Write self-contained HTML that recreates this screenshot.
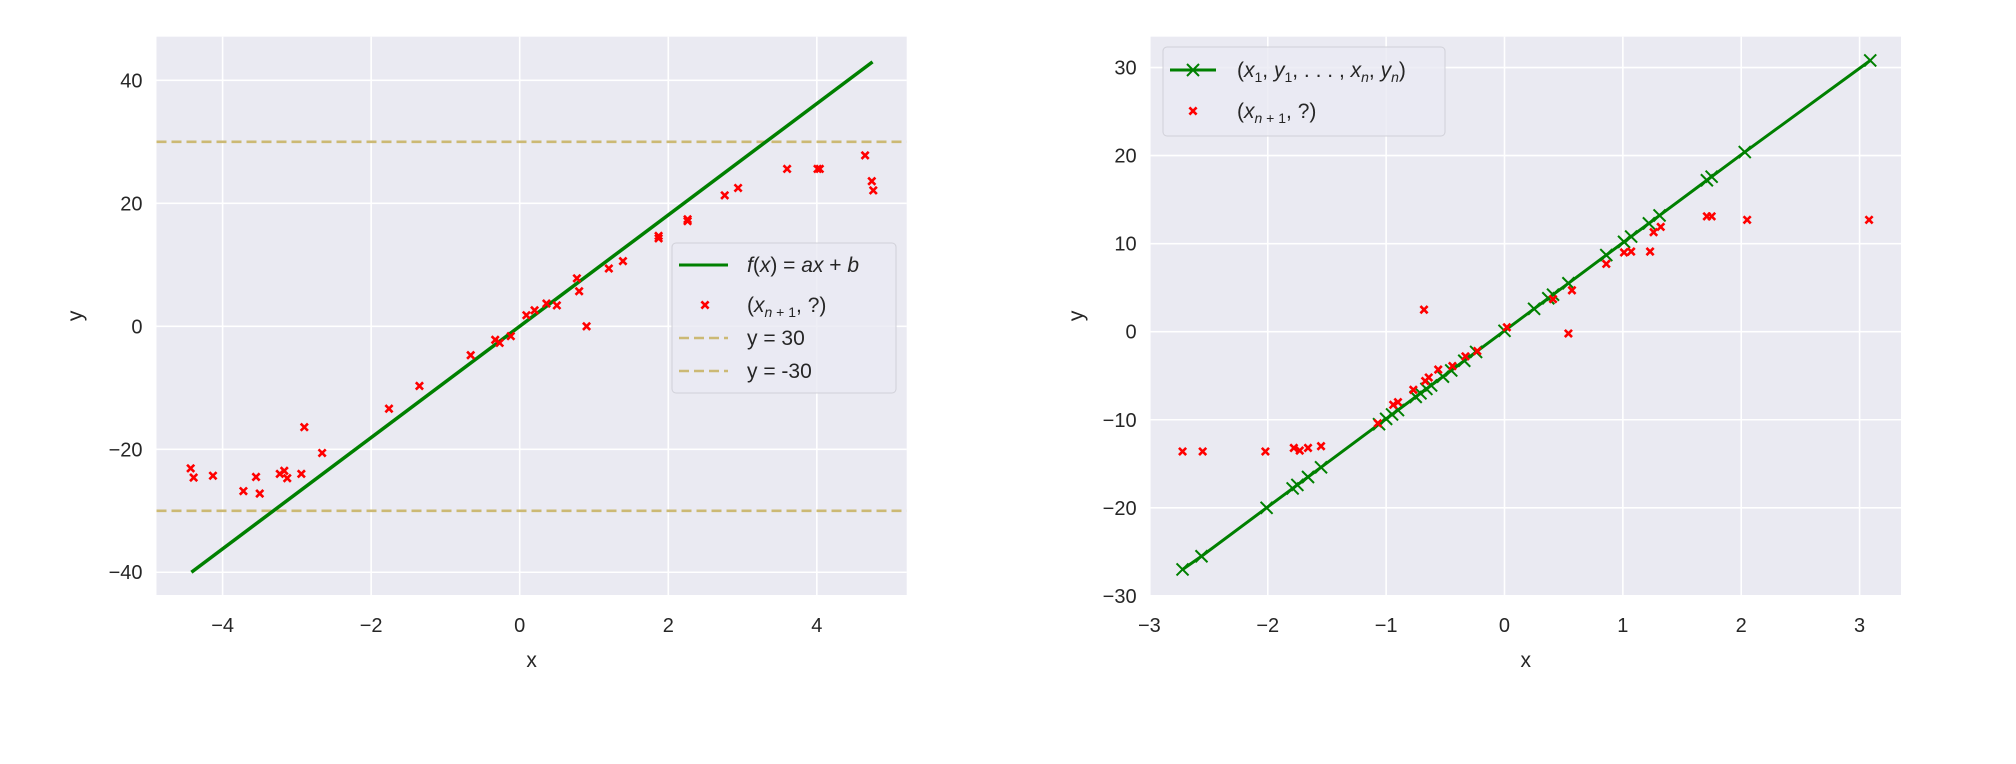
<!DOCTYPE html>
<html><head><meta charset="utf-8"><style>
html,body{margin:0;padding:0;background:#fff;}
svg{display:block;font-family:"Liberation Sans",sans-serif;}
</style></head><body>
<svg id="fig" width="2016" height="764" viewBox="0 0 2016 764" xmlns="http://www.w3.org/2000/svg"></svg>
<script>
// ---- left chart data ----
const leftLineX = [-4.42, 4.75];
const leftLineY = [-40.0, 43.0];
const leftPtsX = [-4.43,-4.39,-4.13,-3.72,-3.55,-3.50,-3.23,-3.17,-3.13,-2.94,-2.90,-2.66,-1.76,-1.35,-0.66,-0.33,-0.27,-0.12,0.09,0.20,0.36,0.50,0.77,0.80,0.90,1.20,1.39,1.87,1.87,2.26,2.26,2.76,2.94,3.60,4.01,4.04,4.65,4.74,4.76];
const leftPtsY = [-23.1,-24.6,-24.3,-26.8,-24.5,-27.2,-24.0,-23.5,-24.7,-24.0,-16.4,-20.6,-13.4,-9.7,-4.7,-2.2,-2.7,-1.6,1.8,2.6,3.7,3.4,7.8,5.7,0.0,9.4,10.6,14.7,14.3,17.4,17.1,21.3,22.5,25.6,25.6,25.6,27.8,23.6,22.1];
const leftHLines = [30, -30];
const leftXTicks = [-4,-2,0,2,4];
const leftYTicks = [40,20,0,-20,-40];
// ---- right chart data ----
const rightLineX = [-2.72,-2.56,-2.01,-1.79,-1.75,-1.66,-1.55,-1.06,-1.00,-0.95,-0.90,-0.75,-0.71,-0.66,-0.62,-0.52,-0.45,-0.34,-0.24,0.00,0.25,0.37,0.41,0.54,0.86,1.01,1.07,1.22,1.31,1.71,1.75,2.03,3.09];
const rightLineY = [-27.0,-25.5,-20.0,-17.8,-17.4,-16.5,-15.4,-10.5,-9.9,-9.4,-8.9,-7.4,-7.0,-6.5,-6.1,-5.1,-4.4,-3.3,-2.3,0.1,2.6,3.8,4.2,5.5,8.7,10.2,10.8,12.3,13.2,17.2,17.6,20.4,30.8];
const rightPtsX = [-2.72,-2.55,-2.02,-1.78,-1.73,-1.66,-1.55,-1.07,-0.94,-0.90,-0.77,-0.67,-0.64,-0.56,-0.44,-0.33,-0.23,-0.68,0.02,0.41,0.57,0.54,0.86,1.01,1.07,1.23,1.26,1.32,1.71,1.75,2.05,3.08];
const rightPtsY = [-13.6,-13.6,-13.6,-13.2,-13.5,-13.2,-13.0,-10.4,-8.3,-8.0,-6.6,-5.6,-5.2,-4.3,-3.9,-2.8,-2.2,2.5,0.5,3.7,4.7,-0.2,7.7,9.0,9.1,9.1,11.3,11.9,13.1,13.1,12.7,12.7];
const rightXTicks = [-3,-2,-1,0,1,2,3];
const rightYTicks = [30,20,10,0,-10,-20,-30];

const NS = "http://www.w3.org/2000/svg";
const svg = document.getElementById('fig');
function mk(tag, attrs, parent, name, inter){
  const e = document.createElementNS(NS, tag);
  for (const k in attrs) e.setAttribute(k, attrs[k]);
  
  
  (parent||svg).appendChild(e);
  return e;
}
function xMark(g, cx, cy, r, color, sw, name){
  const p = document.createElementNS(NS,'path');
  p.setAttribute('d', `M${cx-r},${cy-r}L${cx+r},${cy+r}M${cx-r},${cy+r}L${cx+r},${cy-r}`);
  p.setAttribute('stroke', color); p.setAttribute('stroke-width', sw); p.setAttribute('fill','none');
  
  
  g.appendChild(p);
}
const TXT = '#262626';
function axes(cfg){
  const g = mk('g', {}, svg, cfg.name, false);
  const sx = v => cfg.L + (v - cfg.x0) / (cfg.x1 - cfg.x0) * (cfg.R - cfg.L);
  const sy = v => cfg.B - (v - cfg.y0) / (cfg.y1 - cfg.y0) * (cfg.B - cfg.T);
  mk('rect', {x:cfg.L, y:cfg.T, width:cfg.R-cfg.L, height:cfg.B-cfg.T, fill:'#EAEAF2'}, g, 'plot-background', false);
  cfg.xt.forEach(v => {
    mk('line', {x1:sx(v), x2:sx(v), y1:cfg.T, y2:cfg.B, stroke:'#fff', 'stroke-width':1.6}, g, 'x-gridline', false);
    const t = mk('text', {x:sx(v), y:632, 'font-size':20, fill:TXT, 'text-anchor':'middle'}, g, 'x-tick-label', false);
    t.textContent = String(v).replace('-', '\u2212');
  });
  cfg.yt.forEach(v => {
    mk('line', {x1:cfg.L, x2:cfg.R, y1:sy(v), y2:sy(v), stroke:'#fff', 'stroke-width':1.6}, g, 'y-gridline', false);
    const t = mk('text', {x:cfg.L-14, y:sy(v)+7, 'font-size':20, fill:TXT, 'text-anchor':'end'}, g, 'y-tick-label', false);
    t.textContent = String(v).replace('-', '\u2212');
  });
  const xl = mk('text', {x:(cfg.L+cfg.R)/2, y:667, 'font-size':21, fill:TXT, 'text-anchor':'middle'}, g, 'x-axis-title', false);
  xl.textContent = 'x';
  const yx = cfg.ylabX;
  const yl = mk('text', {x:yx, y:(cfg.T+cfg.B)/2, 'font-size':21, fill:TXT, 'text-anchor':'middle', transform:`rotate(-90 ${yx} ${(cfg.T+cfg.B)/2})`}, g, 'y-axis-title', false);
  yl.textContent = 'y';
  const clipId = cfg.name + '-clip';
  const cp = mk('clipPath', {id:clipId}, g, 'clip', false);
  mk('rect', {x:cfg.L, y:cfg.T, width:cfg.R-cfg.L, height:cfg.B-cfg.T}, cp, 'clip-rect', false);
  const dg = mk('g', {'clip-path':`url(#${clipId})`}, g, 'data-layer', false);
  return {g, dg, sx, sy};
}

// LEFT
const A = axes({name:'left-chart', L:156.5, R:906.7, T:36.7, B:595, x0:-4.89, x1:5.21, y0:-43.7, y1:47.1, xt:leftXTicks, yt:leftYTicks, ylabX:82});
leftHLines.forEach(v => {
  mk('line', {x1:156.5, x2:906.7, y1:A.sy(v), y2:A.sy(v), stroke:'#CCB974', 'stroke-width':2.6, 'stroke-dasharray':'10,5'}, A.dg, v>0?'hline-y30':'hline-y-30', false);
});
mk('polyline', {points:leftLineX.map((x,i)=>A.sx(x)+','+A.sy(leftLineY[i])).join(' '), stroke:'#008000', 'stroke-width':3.5, fill:'none'}, A.dg, 'fit-line', false);
const lp = mk('g', {}, A.dg, 'red-points', false);
leftPtsX.forEach((x,i) => xMark(lp, A.sx(x), A.sy(leftPtsY[i]), 3.6, '#ff0000', 2.6, 'red-point'));
// left legend
const lg = mk('g', {}, A.g, 'legend', false);
mk('rect', {x:672, y:243, width:224, height:150, rx:4, fill:'#EAEAF2', 'fill-opacity':0.8, stroke:'#d0d0d8', 'stroke-width':1}, lg, 'legend-frame', false);
mk('line', {x1:679, x2:728, y1:265, y2:265, stroke:'#008000', 'stroke-width':3}, lg, 'legend-line-swatch', false);
xMark(lg, 705, 305, 3.6, '#ff0000', 2.6, 'legend-marker-swatch');
mk('line', {x1:679, x2:728, y1:338, y2:338, stroke:'#CCB974', 'stroke-width':2.6, 'stroke-dasharray':'10,5'}, lg, 'legend-dash-swatch', false);
mk('line', {x1:679, x2:728, y1:371, y2:371, stroke:'#CCB974', 'stroke-width':2.6, 'stroke-dasharray':'10,5'}, lg, 'legend-dash-swatch', false);
let t;
t = mk('text', {x:747, y:272, 'font-size':21, fill:TXT}, lg, 'legend-label-fit', false);
t.innerHTML = '<tspan font-style="italic">f</tspan>(<tspan font-style="italic">x</tspan>) = <tspan font-style="italic">ax</tspan> + <tspan font-style="italic">b</tspan>';
t = mk('text', {x:747, y:312, 'font-size':21, fill:TXT}, lg, 'legend-label-points', false);
t.innerHTML = '(<tspan font-style="italic">x</tspan><tspan font-size="14" dy="5"><tspan font-style="italic">n</tspan> + 1</tspan><tspan dy="-5">, ?)</tspan>';
t = mk('text', {x:747, y:345, 'font-size':21, fill:TXT}, lg, 'legend-label-y30', false);
t.textContent = 'y = 30';
t = mk('text', {x:747, y:378, 'font-size':21, fill:TXT}, lg, 'legend-label-y-30', false);
t.textContent = 'y = -30';

// RIGHT
const B = axes({name:'right-chart', L:1150.6, R:1901, T:36.7, B:595, x0:-2.99, x1:3.35, y0:-29.9, y1:33.5, xt:rightXTicks, yt:rightYTicks, ylabX:1083});
mk('polyline', {points:rightLineX.map((x,i)=>B.sx(x)+','+B.sy(rightLineY[i])).join(' '), stroke:'#008000', 'stroke-width':3, fill:'none'}, B.dg, 'training-line', false);
const gm = mk('g', {}, B.dg, 'training-markers', false);
rightLineX.forEach((x,i) => xMark(gm, B.sx(x), B.sy(rightLineY[i]), 6, '#008000', 2, 'training-marker'));
const rp = mk('g', {}, B.dg, 'red-points', false);
rightPtsX.forEach((x,i) => xMark(rp, B.sx(x), B.sy(rightPtsY[i]), 3.6, '#ff0000', 2.6, 'red-point'));
const rg = mk('g', {}, B.g, 'legend', false);
mk('rect', {x:1163, y:47, width:282, height:89, rx:4, fill:'#EAEAF2', 'fill-opacity':0.8, stroke:'#d0d0d8', 'stroke-width':1}, rg, 'legend-frame', false);
mk('line', {x1:1170, x2:1216, y1:70, y2:70, stroke:'#008000', 'stroke-width':3}, rg, 'legend-line-swatch', false);
xMark(rg, 1193, 70, 6, '#008000', 2, 'legend-marker-swatch');
xMark(rg, 1193, 111, 3.6, '#ff0000', 2.6, 'legend-marker-swatch');
t = mk('text', {x:1237, y:77, 'font-size':21, fill:TXT}, rg, 'legend-label-training', false);
t.innerHTML = '(<tspan font-style="italic">x</tspan><tspan font-size="14" dy="5">1</tspan><tspan dy="-5">, </tspan><tspan font-style="italic">y</tspan><tspan font-size="14" dy="5">1</tspan><tspan dy="-5">, . . . , </tspan><tspan font-style="italic">x<tspan font-size="14" dy="5">n</tspan></tspan><tspan dy="-5">, </tspan><tspan font-style="italic">y<tspan font-size="14" dy="5">n</tspan></tspan><tspan dy="-5">)</tspan>';
t = mk('text', {x:1237, y:118, 'font-size':21, fill:TXT}, rg, 'legend-label-points', false);
t.innerHTML = '(<tspan font-style="italic">x</tspan><tspan font-size="14" dy="5"><tspan font-style="italic">n</tspan> + 1</tspan><tspan dy="-5">, ?)</tspan>';
</script>
</body></html>
